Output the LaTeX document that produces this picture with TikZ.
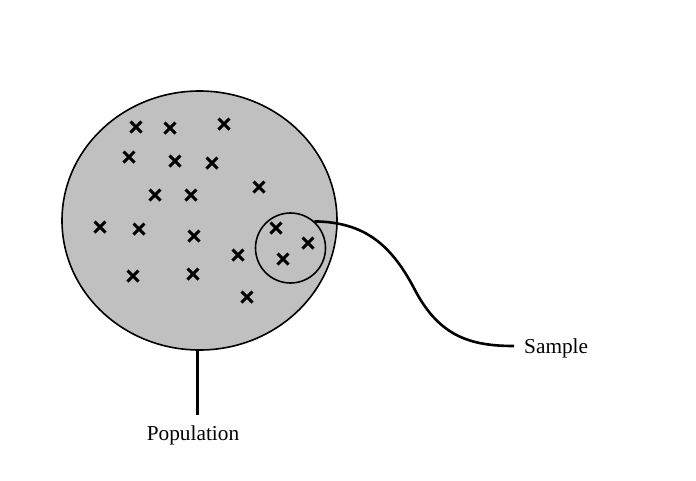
\documentclass[tikz,border=0pt]{standalone}
\usepackage{fontspec}
\setmainfont{Liberation Serif}
\usetikzlibrary{shapes.misc,shapes.geometric}
\definecolor{popgray}{HTML}{C0C0C0}
\begin{document}
\begin{tikzpicture}[x=1pt,y=-1pt,
  xmark/.style={cross out,draw=black,line width=3pt,minimum size=8pt,inner sep=0pt},
  lbl/.style={font=\fontsize{21.3}{24}\selectfont,inner sep=0pt},
  outline/.style={draw=black,line width=1.6pt}]
\useasboundingbox (0,0) rectangle (696,480);
\node[ellipse,outline,fill=popgray,minimum width=275pt,minimum height=259pt,inner sep=0pt] (pop) at (199.5,220.5) {};
\node[circle,outline,minimum size=70pt,inner sep=0pt] (samp) at (290.5,248) {};
\foreach \x/\y [count=\i] in {136/127,170/128,224/124,129/157,175/161,212/163,259/187,155/195,191/195,100/227,139/229,194/236,276/228,308/243,283/259,238/255,133/276,193/274,247/297}
  \node[xmark] (x\i) at (\x,\y) {};
\node[lbl,anchor=north] (poplbl) at (193,426) {Population};
\node[lbl,anchor=west] (samplbl) at (524,348) {Sample};
\coordinate (mid) at (416,292);
\path ([yshift=11pt]poplbl.north) coordinate (popend);
\draw[line width=3pt] ([xshift=-2.5pt]pop.south) -- ([xshift=-2.5pt]pop.south |- popend);
\draw[line width=2.6pt] (samp.48) .. controls (365,222) and (392,245) .. (mid)
  .. controls (440,336) and (470,346) .. ([xshift=-10pt,yshift=2pt]samplbl.west);
\end{tikzpicture}
\end{document}
